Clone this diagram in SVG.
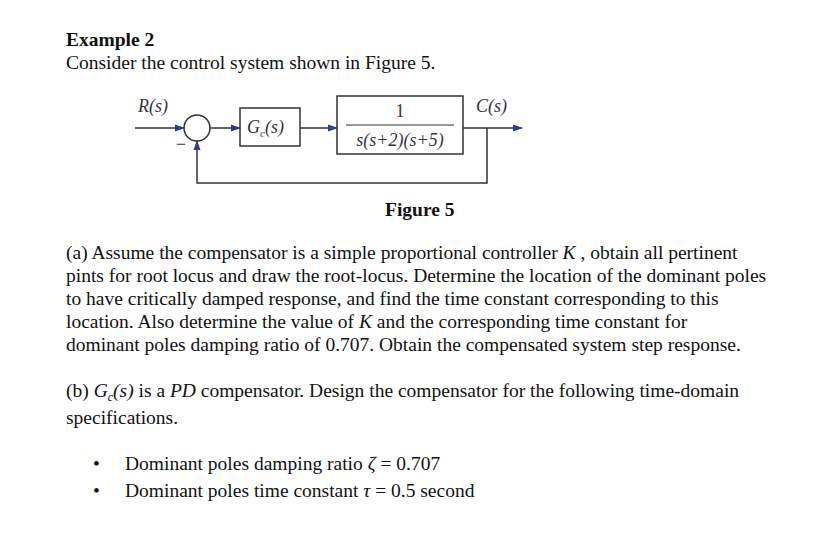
<svg xmlns="http://www.w3.org/2000/svg" width="821" height="545" viewBox="0 0 821 545">
<style>
text{font-family:"Liberation Serif",serif;font-size:19.5px;fill:#111}
.b{font-weight:bold}
.m{font-family:"Liberation Serif",serif;font-size:18px;fill:#334}
.ln{stroke:#333;stroke-width:1.5;fill:none}
</style>
<defs><marker id="a" markerWidth="10" markerHeight="8" refX="9" refY="4" orient="auto" markerUnits="userSpaceOnUse"><path d="M0,0.5 L10,4 L0,7.5z" fill="#2a3d8f"/></marker></defs>
<rect width="821" height="545" fill="#fff"/>
<text x="66" y="46" class="b">Example 2</text>
<text x="66" y="69">Consider the control system shown in Figure 5.</text>
<g id="sum"><circle cx="197" cy="128" r="13" class="ln"/><text x="176" y="150" class="m">−</text></g>
<g id="gc"><rect x="240" y="108" width="60" height="38" class="ln"/><text x="247" y="133" class="m" font-style="italic">G<tspan font-size="11" dy="4">c</tspan><tspan dy="-4">(s)</tspan></text></g>
<g id="plant"><rect x="337" y="96" width="126" height="58" class="ln"/><text x="400" y="117" class="m" text-anchor="middle">1</text><line x1="346" y1="125" x2="454" y2="125" stroke="#333"/><text x="400" y="146" class="m" text-anchor="middle" font-style="italic">s(s+2)(s+5)</text></g>
<g id="labels"><text x="138" y="112" class="m" font-style="italic">R(s)</text><text x="476" y="112" class="m" font-style="italic">C(s)</text></g>
<g id="connectors">
<line x1="135" y1="128" x2="184" y2="128" class="ln" marker-end="url(#a)"/>
<line x1="210" y1="128" x2="240" y2="128" class="ln" marker-end="url(#a)"/>
<line x1="300" y1="128" x2="337" y2="128" class="ln" marker-end="url(#a)"/>
<line x1="463" y1="128" x2="522" y2="128" class="ln" marker-end="url(#a)"/>
<polyline points="487,128 487,183 197,183 197,141" class="ln" marker-end="url(#a)"/>
</g>
<text x="385" y="216" class="b">Figure 5</text>
<text x="66" y="259">(a) Assume the compensator is a simple proportional controller <tspan font-style="italic">K</tspan> , obtain all pertinent</text>
<text x="66" y="282">pints for root locus and draw the root-locus. Determine the location of the dominant poles</text>
<text x="66" y="305">to have critically damped response, and find the time constant corresponding to this</text>
<text x="66" y="328">location. Also determine the value of <tspan font-style="italic">K</tspan>  and the corresponding time constant for</text>
<text x="66" y="351">dominant poles damping ratio of 0.707. Obtain the compensated system step response.</text>
<text x="66" y="397">(b) <tspan font-style="italic">G<tspan font-size="12" dy="4">c</tspan><tspan dy="-4">(s)</tspan></tspan>  is a <tspan font-style="italic">PD</tspan> compensator. Design the compensator for the following time-domain</text>
<text x="66" y="424">specifications.</text>
<text x="93" y="470" font-size="24">•</text><text x="125" y="470">Dominant poles damping ratio <tspan font-style="italic">ζ</tspan> = 0.707</text>
<text x="93" y="497" font-size="24">•</text><text x="125" y="497">Dominant poles time constant <tspan font-style="italic">τ</tspan> = 0.5  second</text>
</svg>
